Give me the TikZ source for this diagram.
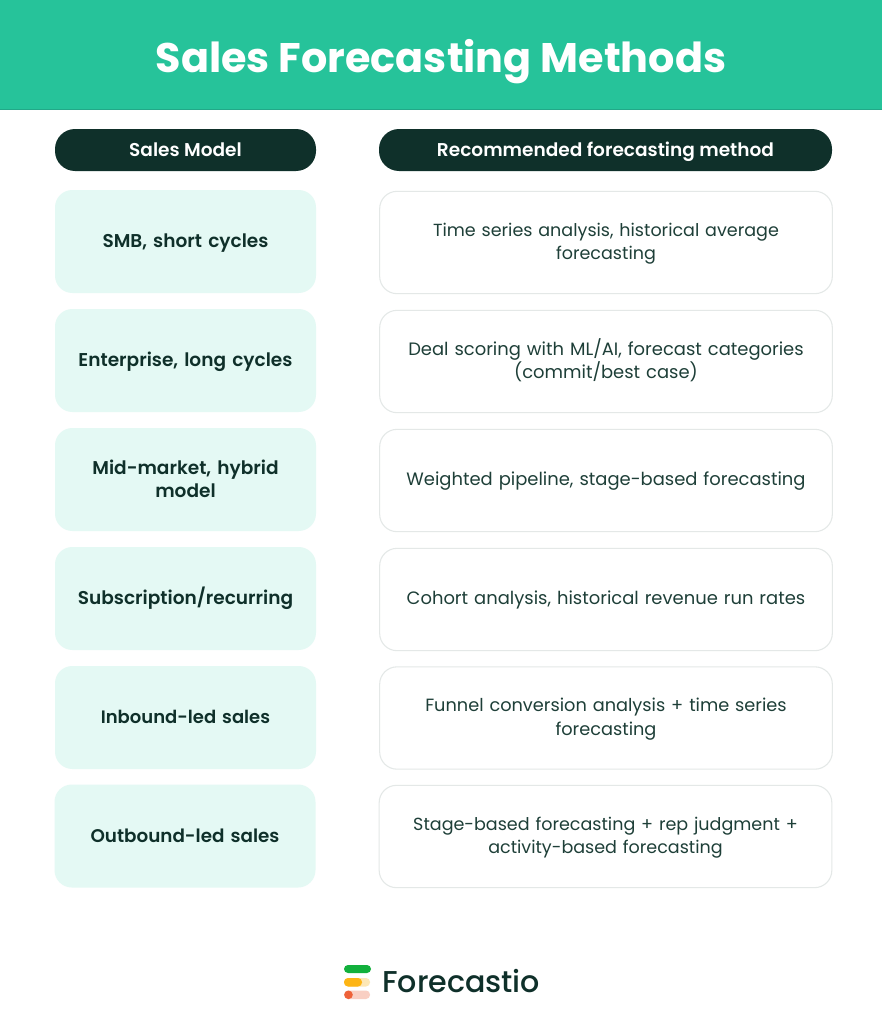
\documentclass[tikz,border=0pt]{standalone}
\usepackage{fontspec}
\setmainfont{Poppins}[BoldFont={Poppins SemiBold}]
\newfontfamily\titlefont{Poppins SemiBold}[BoldFont={Poppins Bold}]
\newfontfamily\logofont{Poppins Medium}
\newcommand\st{\rule[-4.55pt]{0pt}{17.3pt}}
\newcommand\stl{\rule[-3.8pt]{0pt}{17.3pt}}
\definecolor{hdrgreen}{HTML}{26C39A}
\definecolor{hdrline}{HTML}{22A888}
\definecolor{darkg}{HTML}{0F302A}
\definecolor{mint}{HTML}{E4F9F4}
\definecolor{edgeg}{HTML}{E4E8E7}
\definecolor{txtg}{HTML}{1E3F38}
\definecolor{logogreen}{HTML}{12B03C}
\definecolor{logoyellow}{HTML}{FDB515}
\definecolor{logoyellowl}{HTML}{FDE7B5}
\definecolor{logored}{HTML}{EE6239}
\definecolor{logoredl}{HTML}{F9CFC3}
\tikzset{x=0.75pt,y=-0.75pt,
 head/.style={rounded corners=15pt,fill=darkg,draw=none,text=white,font=\bfseries\fontsize{13.9}{17.3}\selectfont,align=center,minimum height=31.5pt,inner sep=0pt},
 leftbox/.style={rounded corners=13pt,fill=mint,draw=none,text=darkg,font=\bfseries\fontsize{13.9}{17.3}\selectfont,align=center,minimum width=195.75pt,minimum height=77.25pt,inner sep=0pt,text width=180pt},
 rightbox/.style={rounded corners=13pt,fill=white,draw=edgeg,line width=0.8pt,text=txtg,font=\fontsize{13.15}{17.3}\selectfont,align=center,minimum width=339.5pt,minimum height=76.75pt,inner sep=0pt,text width=320pt},
 rightwide/.style={rightbox,font=\fontsize{13.45}{17.3}\selectfont}}
\begin{document}
\begin{tikzpicture}
\useasboundingbox (0,0) rectangle (882,1024);
\fill[white] (0,0) rectangle (882,1024);
\fill[hdrgreen] (0,0) rectangle (882,109);
\fill[hdrline] (0,108.5) rectangle (882,110);
\node[text=white,font=\titlefont\bfseries\fontsize{31}{36}\selectfont,inner sep=0pt] (title) at (441,62) {Sales Forecasting Methods};
\node[head,minimum width=195.75pt] (h1) at (185.5,150) {\stl Sales Model};
\node[head,minimum width=339.75pt] (h2) at (605.5,150) {\stl Recommended forecasting method};
\node[leftbox] (l1) at (185.5,241.5) {\stl SMB, short cycles};
\node[leftbox] (l2) at (185.5,360.5) {\stl Enterprise, long cycles};
\node[leftbox] (l3) at (185.5,479.5) {\stl Mid-market, hybrid\\\stl model};
\node[leftbox] (l4) at (185.5,598.5) {\st Subscription/recurring};
\node[leftbox,font=\bfseries\fontsize{13.5}{17.3}\selectfont] (l5) at (185.5,717.5) {\stl Inbound-led sales};
\node[leftbox,font=\bfseries\fontsize{13.75}{17.3}\selectfont] (l6) at (185,836) {\stl Outbound-led sales};
\node[rightbox] (r1) at (606,242.5) {\st Time series analysis, historical average\\\st forecasting};
\node[rightwide] (r2) at (606,361.5) {\st Deal scoring with ML/AI, forecast categories\\\st (commit/best case)};
\node[rightwide] (r3) at (606,480.5) {\st Weighted pipeline, stage-based forecasting};
\node[rightwide] (r4) at (606,599.5) {\st Cohort analysis, historical revenue run rates};
\node[rightbox,font=\fontsize{13.3}{17.3}\selectfont] (r5) at (606,718) {\st Funnel conversion analysis + time series\\\st forecasting};
\node[rightbox] (r6) at (605.5,836.5) {\st Stage-based forecasting + rep judgment +\\\st activity-based forecasting};
% logo
\fill[logogreen,rounded corners=3pt] (344,965) rectangle (371,973);
\fill[logoyellowl,rounded corners=3pt] (344,978) rectangle (370,986.5);
\fill[logoyellow,rounded corners=3pt] (344,978) rectangle (362,986.5);
\fill[logoredl,rounded corners=3pt] (344,990.5) rectangle (370,999);
\fill[logored] (348.5,994.8) circle[radius=4.3];
\node[text=darkg,font=\logofont\fontsize{22.6}{28}\selectfont,inner sep=0pt,anchor=west] (logo) at (382,981) {Forecastio};
\end{tikzpicture}
\end{document}
